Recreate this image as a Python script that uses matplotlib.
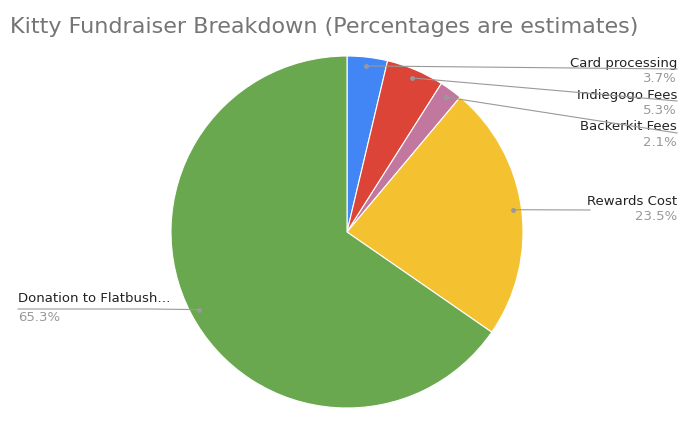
import matplotlib
matplotlib.use("Agg")
import matplotlib.pyplot as plt
import numpy as np

labels = ["Card processing", "Indiegogo Fees", "Backerkit Fees", "Rewards Cost", "Donation to Flatbush…"]
values = [3.7, 5.3, 2.1, 23.5, 65.3]
colors = ["#4285f4", "#db4437", "#c2779f", "#f4c231", "#6aa84f"]

W, H = 695, 427
fig = plt.figure(figsize=(6.95, 4.27), dpi=100)
ax = fig.add_axes([0, 0, 1, 1])
ax.set_xlim(0, W); ax.set_ylim(0, H); ax.set_aspect("equal"); ax.axis("off")

cx, cy, r = 347, H - 233, 176
ax.pie(values, colors=colors, startangle=90, counterclock=False, center=(cx, cy), radius=r,
       wedgeprops=dict(linewidth=0.8, edgecolor="white"), frame=True)
ax.set_xlim(0, W); ax.set_ylim(0, H); ax.axis("off")

# label positions (px from top): label y, line y, anchor
lab_y = [63, 95, 127, 202, 298]
line_y = [70, 102, 134, 211, 310]
total = sum(values)
start = 90.0
for i, v in enumerate(values):
    mid = start - v / total * 360 / 2
    start -= v / total * 360
    a = np.deg2rad(mid)
    dx, dy = cx + 0.95 * r * np.cos(a), cy + 0.95 * r * np.sin(a)
    ax.plot(dx, dy, "o", ms=2.5, color="#999999", zorder=5)
    ly = H - line_y[i]
    pct = f"{v}%"
    if i < 4:
        endx = 677 if i < 3 else 590
        ax.plot([dx, endx], [dy, ly], color="#999999", lw=0.8, zorder=4)
        ax.text(677, H - lab_y[i], labels[i], ha="right", va="center", fontsize=9.5, color="#222222")
        ax.text(677, H - lab_y[i] - 15, pct, ha="right", va="center", fontsize=9.5, color="#999999")
    else:
        ax.plot([18, 150, dx], [ly, ly, dy], color="#999999", lw=0.8, zorder=4)
        ax.text(18, H - lab_y[i], labels[i], ha="left", va="center", fontsize=9.5, color="#222222")
        ax.text(18, H - lab_y[i] - 20, pct, ha="left", va="center", fontsize=9.5, color="#999999")

fig.text(10 / W, 1 - 27 / H, "Kitty Fundraiser Breakdown (Percentages are estimates)",
         fontsize=16, color="#757575", ha="left", va="center")
fig.savefig("out.png", dpi=100)
